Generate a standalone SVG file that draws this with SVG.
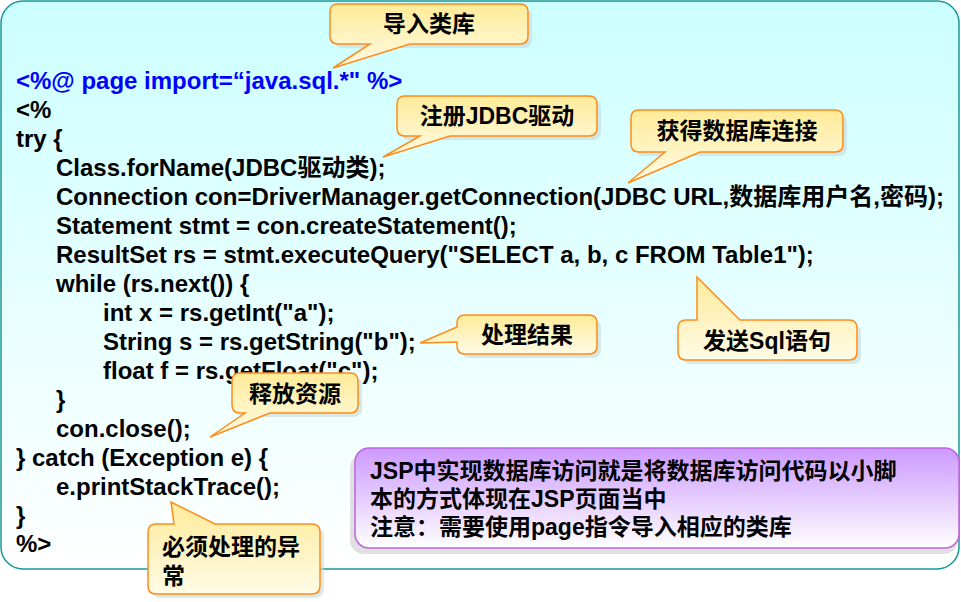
<svg xmlns="http://www.w3.org/2000/svg" width="961" height="602" viewBox="0 0 961 602">
<defs>
<linearGradient id="bg" x1="0" y1="0" x2="0" y2="1"><stop offset="0" stop-color="#ccffff"/><stop offset="1" stop-color="#ffffff"/></linearGradient>
<linearGradient id="cy" x1="0" y1="0" x2="0" y2="1"><stop offset="0" stop-color="#ffeb99"/><stop offset="1" stop-color="#fffbe6"/></linearGradient>
<linearGradient id="pu" x1="0" y1="0" x2="0" y2="1"><stop offset="0" stop-color="#cc99ff"/><stop offset="1" stop-color="#ffffff"/></linearGradient>
<style>
.c{font-family:"Liberation Sans",Arial,"Noto Sans CJK SC",sans-serif;font-weight:bold;font-size:24px;fill:#000}
.b{fill:#0000ff}
.l{font-family:"Liberation Sans","Noto Sans CJK SC",sans-serif;font-weight:bold;font-size:23px;fill:#000}
.co{fill:url(#cy);stroke:#ff8c1a;stroke-width:1.5}
.sh{fill:#c8d8d8;opacity:0.6}
</style>
</defs>
<rect x="1" y="1" width="958" height="568" rx="22" fill="url(#bg)" stroke="#199999" stroke-width="1.5"/>
<g id="code">
<text class="c b" x="16" y="89">&lt;%@ page import=“java.sql.*" %&gt;</text>
<text class="c" x="16" y="118">&lt;%</text>
<text class="c" x="16" y="147">try {</text>
<text class="c" x="56" y="176">Class.forName(JDBC<tspan font-family="Noto Sans CJK SC">驱动类</tspan>);</text>
<text class="c" x="56" y="205" textLength="888" lengthAdjust="spacingAndGlyphs">Connection con=DriverManager.getConnection(JDBC URL,<tspan font-family="Noto Sans CJK SC">数据库用户名</tspan>,<tspan font-family="Noto Sans CJK SC">密码</tspan>);</text>
<text class="c" x="56" y="234">Statement stmt = con.createStatement();</text>
<text class="c" x="56" y="263">ResultSet rs = stmt.executeQuery("SELECT a, b, c FROM Table1");</text>
<text class="c" x="56" y="292">while (rs.next()) {</text>
<text class="c" x="103" y="321">int x = rs.getInt("a");</text>
<text class="c" x="103" y="350">String s = rs.getString("b");</text>
<text class="c" x="103" y="379">float f = rs.getFloat("c");</text>
<text class="c" x="56" y="408">}</text>
<text class="c" x="56" y="437">con.close();</text>
<text class="c" x="16" y="466">} catch (Exception e) {</text>
<text class="c" x="56" y="495">e.printStackTrace();</text>
<text class="c" x="16" y="524">}</text>
<text class="c" x="16" y="552">%&gt;</text>
</g>
<g id="c1"><rect class="sh" x="334" y="8" width="198" height="40" rx="8"/><path class="co" d="M338,4 H520 Q528,4 528,12 V36 Q528,44 520,44 H410 L333,68 L370,44 H338 Q330,44 330,36 V12 Q330,4 338,4 Z"/><text class="l" x="429" y="32" text-anchor="middle">导入类库</text></g>
<g id="c2"><rect class="sh" x="401" y="100" width="200" height="40" rx="8"/><path class="co" d="M405,96 H589 Q597,96 597,104 V128 Q597,136 589,136 H450 L383,157 L420,136 H405 Q397,136 397,128 V104 Q397,96 405,96 Z"/><text class="l" x="497" y="124" text-anchor="middle">注册JDBC驱动</text></g>
<g id="c3"><rect class="sh" x="635" y="114" width="212" height="42" rx="8"/><path class="co" d="M639,110 H835 Q843,110 843,118 V144 Q843,152 835,152 H700 L628,183 L665,152 H639 Q631,152 631,144 V118 Q631,110 639,110 Z"/><text class="l" x="737" y="139" text-anchor="middle">获得数据库连接</text></g>
<g id="c4"><rect class="sh" x="461" y="319" width="140" height="39" rx="8"/><path class="co" d="M465,315 H589 Q597,315 597,323 V346 Q597,354 589,354 H465 Q457,354 457,346 V342 L420,343 L457,327 V323 Q457,315 465,315 Z"/><text class="l" x="527" y="343" text-anchor="middle">处理结果</text></g>
<g id="c5"><rect class="sh" x="682" y="324" width="179" height="40" rx="8"/><path class="co" d="M686,320 H697 L697,277 L740,320 H849 Q857,320 857,328 V352 Q857,360 849,360 H686 Q678,360 678,352 V328 Q678,320 686,320 Z"/><text class="l" x="767" y="349" text-anchor="middle">发送Sql语句</text></g>
<g id="c6"><rect class="sh" x="236" y="377" width="126" height="40" rx="8"/><path class="co" d="M240,373 H350 Q358,373 358,381 V405 Q358,413 350,413 H270 L210,437 L245,413 H240 Q232,413 232,405 V381 Q232,373 240,373 Z"/><text class="l" x="295" y="402" text-anchor="middle">释放资源</text></g>
<g id="c7"><rect class="sh" x="152" y="528" width="172" height="70" rx="8"/><path class="co" d="M156,524 H174 L171,502 L215,524 H312 Q320,524 320,532 V586 Q320,594 312,594 H156 Q148,594 148,586 V532 Q148,524 156,524 Z"/><text class="l" x="162" y="555">必须处理的异</text><text class="l" x="162" y="584">常</text></g>
<g id="note"><rect x="350" y="454" width="608" height="100" rx="14" fill="#e0e0e0"/><rect x="355" y="448" width="604" height="100" rx="14" fill="url(#pu)" stroke="#bb66dd" stroke-width="1.5"/>
<text class="l" x="370" y="479" font-size="25">JSP中实现数据库访问就是将数据库访问代码以小脚</text>
<text class="l" x="370" y="507" font-size="25">本的方式体现在JSP页面当中</text>
<text class="l" x="370" y="535" font-size="25">注意：需要使用page指令导入相应的类库</text></g>
<g id="connectors"/>
</svg>
